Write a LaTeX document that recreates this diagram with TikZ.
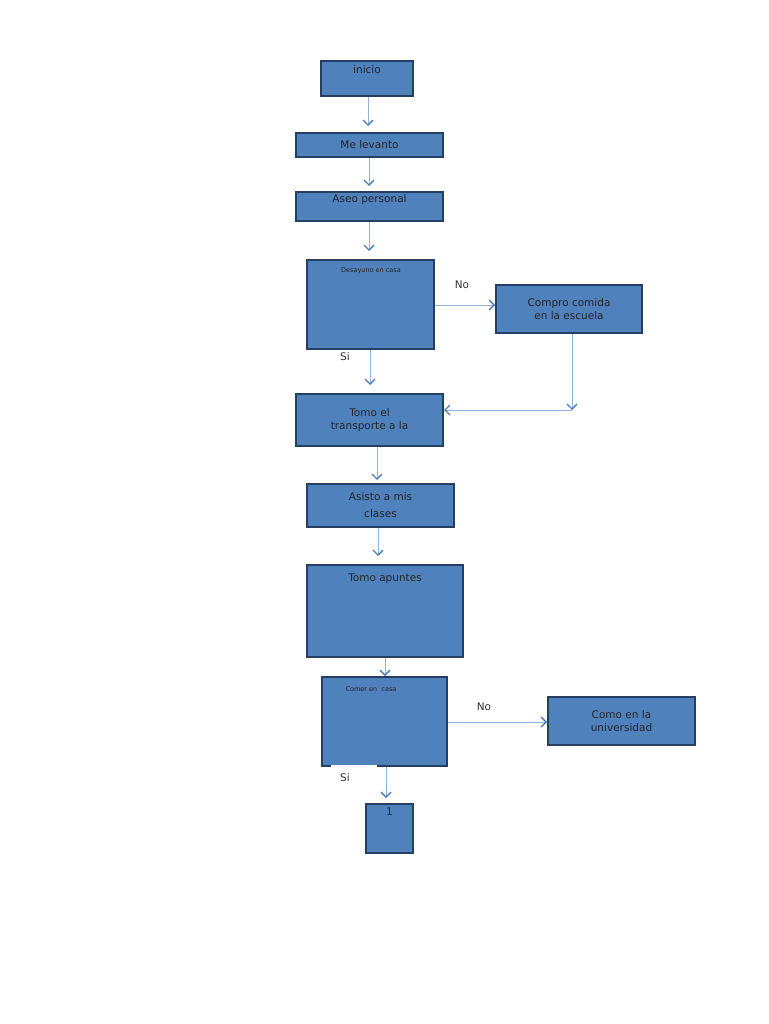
\documentclass[tikz,border=0pt]{standalone}
\usepackage{fontspec}
\setmainfont{DejaVu Sans}
\usetikzlibrary{arrows.meta}
\definecolor{boxfill}{HTML}{4F81BD}
\definecolor{boxline}{HTML}{243F60}
\definecolor{conn}{HTML}{4A7EBB}
\begin{document}
\begin{tikzpicture}[x=1pt,y=-1pt,
  box/.style={draw=boxline,line width=2pt,fill=boxfill,inner sep=0pt,align=center,font=\fontsize{10.5}{13}\selectfont,text=black!85},
  small/.style={font=\fontsize{6.5}{8}\selectfont,text=black!85,inner sep=0pt},
  lbl/.style={font=\fontsize{10.5}{13}\selectfont,text=black!80},
  conn/.style={draw=conn!60,line width=0.7pt,-{Straight Barb[length=5pt,width=10pt,line width=1.3pt,color=conn]}}]
\useasboundingbox (0,0) rectangle (768,1024);
\newcommand{\bx}[6]{\node[box,minimum width=#4-#2,minimum height=#5-#3] (#1) at ({(#2+#4)/2},{(#3+#5)/2}) {#6};}
\bx{ini}{321}{61}{413}{96}{inicio\\[4pt]}
\bx{lev}{296}{133}{443}{157}{\raisebox{-5pt}{Me levanto}}
\bx{aseo}{296}{192}{443}{221}{Aseo personal\\[2pt]}
\bx{des}{307}{260}{434}{349}{}
\node[small] (dest) at (371,271) {Desayuno en casa};
\bx{comp}{496}{285}{642}{333}{Compro comida\\en la escuela}
\bx{trans}{296}{394}{443}{446}{Tomo el\\transporte a la}
\bx{asis}{307}{484}{454}{527}{Asisto a mis\\\raisebox{-4pt}{clases}}
\bx{apun}{307}{565}{463}{657}{}
\node[lbl,text=black!85] (apunt) at (385,579) {Tomo apuntes};
\bx{comer}{322}{677}{447}{766}{}
\node[small] (comert) at (371,689) {Comer en\ \ casa};
\bx{univ}{548}{697}{695}{745}{Como en la\\universidad}
\bx{uno}{366}{804}{413}{853}{1\\[20pt]}
\fill[white] (331,765) rectangle (377,768);
\coordinate (c1) at (572,410);
\draw[conn] (ini.south -| 368,0) -- (368,126);
\draw[conn] (lev.south -| 369,0) -- (369,186);
\draw[conn] (aseo.south -| 369,0) -- (369,251);
\draw[conn] (des.east |- 0,305) -- (comp.west |- 0,305);
\draw[conn] (des.south -| 370,0) -- (370,385);
\draw[conn] (comp.south -| 572,0) -- (c1);
\draw[conn] (c1) -- (trans.east |- c1);
\draw[conn] (trans.south -| 377,0) -- (377,480);
\draw[conn] (asis.south -| 378,0) -- (378,556);
\draw[conn] (apun.south -| 385,0) -- (comer.north -| 385,0);
\draw[conn] (comer.east |- 0,722) -- (univ.west |- 0,722);
\draw[conn] (comer.south -| 386,0) -- (386,798);
\node[lbl] (no1) at (462,285) {No};
\node[lbl] (si1) at (345,357) {Si};
\node[lbl] (no2) at (484,707) {No};
\node[lbl] (si2) at (345,778) {Si};
\end{tikzpicture}
\end{document}
